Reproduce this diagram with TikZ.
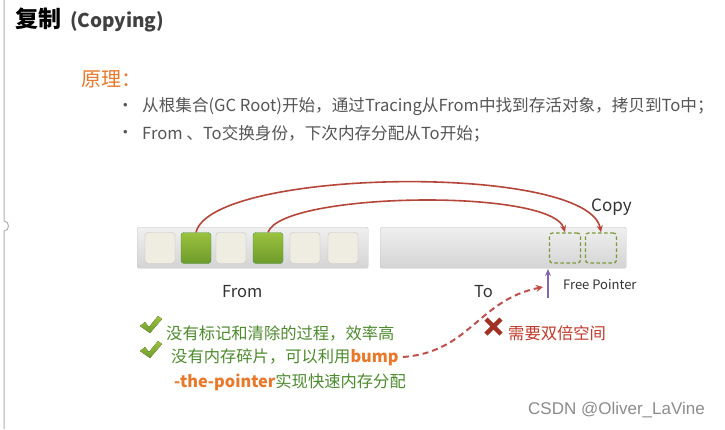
\documentclass[tikz,border=0pt]{standalone}
\usepackage{fontspec}
\setmainfont{Noto Sans CJK SC}
\newfontfamily\wmfont{Liberation Sans}
\usetikzlibrary{arrows.meta}
\definecolor{bodygray}{HTML}{555555}
\definecolor{orangeC}{HTML}{E8782A}
\definecolor{greenT}{HTML}{4E8A2E}
\definecolor{redT}{HTML}{C0392B}
\definecolor{arcred}{HTML}{B5463A}
\definecolor{dashred}{HTML}{C0504D}
\definecolor{cellbeige}{HTML}{EFECE2}
\definecolor{purpleP}{HTML}{8466B0}
\definecolor{dashgreen}{HTML}{7A9A3A}
\definecolor{HTML9BC23F}{HTML}{9BC23F}
\definecolor{HTML6E9B2B}{HTML}{6E9B2B}
\tikzset{
  txt/.style={inner sep=0pt, anchor=west, text=bodygray, font=\fontsize{16.6}{18}\selectfont},
  gtxt/.style={inner sep=0pt, anchor=west, font=\fontsize{16.3}{18}\selectfont},
  bar/.style={draw=black!22, top color=black!6, bottom color=black!17, rounded corners=1.5pt, inner sep=0pt, anchor=north west},
  cellE/.style={draw=black!25, fill=cellbeige, rounded corners=3pt, minimum width=30pt, minimum height=31pt, inner sep=0pt},
  cellG/.style={draw=green!40!black!70, top color=HTML9BC23F, bottom color=HTML6E9B2B, rounded corners=3pt, minimum width=30pt, minimum height=31pt, inner sep=0pt},
  cellD/.style={draw=dashgreen, dashed, line width=1.3pt, dash pattern=on 3.5pt off 2.5pt, rounded corners=3pt, minimum width=31pt, minimum height=30pt, inner sep=0pt},
  arc/.style={draw=arcred, line width=1.6pt, -{Stealth[length=7pt,width=6pt]}},
  smalltxt/.style={inner sep=0pt, text=black!80, font=\fontsize{17}{19}\selectfont},
}
\begin{document}
\begin{tikzpicture}[x=1pt,y=-1pt]
\useasboundingbox (0,0) rectangle (725,429);
\fill[white] (0,0) rectangle (725,429);
% left margin line
\draw[black!30, line width=1pt] (4,0) -- (4,221) .. controls (10,221) and (10,231) .. (4,231) -- (4,429);
% title
\node[inner sep=0pt, anchor=west] (title) at (15,20) {\fontsize{23}{26}\selectfont\bfseries 复制\hspace{9pt}{\fontsize{19}{21}\selectfont\color{black!75}(Copying)}};
\node[inner sep=0pt, anchor=west, text=orangeC, font=\fontsize{20}{22}\selectfont] (yl) at (81,79) {原理：};
\node[txt] (b1) at (117,107) {•};
\node[txt] (t1) at (142,107) {从根集合(GC Root)开始，通过Tracing从From中找到存活对象，拷贝到To中；};
\node[txt] (b2) at (117,134) {•};
\node[txt] (t2) at (142,134) {From 、To交换身份，下次内存分配从To开始；};
% bars
\node[bar, minimum width=231pt, minimum height=41pt] (from) at (137,227) {};
\node[bar, minimum width=246pt, minimum height=41pt] (to) at (380,227) {};
% from cells
\node[cellE] (f1) at (160,248) {};
\node[cellG] (f2) at (196,248) {};
\node[cellE] (f3) at (231,248) {};
\node[cellG] (f4) at (268,248) {};
\node[cellE] (f5) at (305,248) {};
\node[cellE] (f6) at (343,248) {};
% to cells
\node[cellD] (c1) at (565,248) {};
\node[cellD] (c2) at (601,248) {};
% arcs
\draw[arc] (f2.north) .. controls (212,168) and (588,163) .. (c2.north);
\draw[arc] (f4.north) .. controls (282,192) and (552,188) .. (c1.north);
\node[smalltxt, anchor=west] (copy) at (591,207) {Copy};
\node[smalltxt, anchor=west, font=\fontsize{16.5}{18}\selectfont] (fromlbl) at (222,292) {From};
\node[smalltxt, anchor=west, font=\fontsize{16.5}{18}\selectfont] (tolbl) at (474,292) {To};
% free pointer
\coordinate (fpb) at (548,298);
\coordinate (fpt) at (548,269);
\draw[purpleP, line width=1.6pt, -{Stealth[length=7pt,width=6pt]}] (fpb) -- (fpt);
\node[inner sep=0pt, anchor=west, text=black!80, font=\fontsize{13}{15}\selectfont] (fp) at (563,285) {Free Pointer};
% check marks
\foreach \yy/\nm in {326/ck1, 351/ck2}{
  \fill[top color=HTML9BC23F, bottom color=HTML6E9B2B] (140,\yy) -- (145,\yy-4) -- (149,\yy+1) -- (158,\yy-10) -- (162,\yy-7) -- (150,\yy+7) -- cycle;
}
\node[gtxt, text=greenT] (g1) at (166,333) {没有标记和清除的过程，效率高};
\node[gtxt, text=greenT] (g2) at (171,357) {没有内存碎片，可以利用\textbf{\color{orangeC}bump}};
\node[gtxt, text=greenT] (g3) at (174,382) {\textbf{\color{orangeC}-the-pointer}实现快速内存分配};
% red X
\draw[redT!85!black, line width=4.5pt] (486,319) -- (501,334) (501,319) -- (486,334);
\node[gtxt, text=redT] (rx) at (508,333) {需要双倍空间};
% dashed red arrow
\draw[dashred, line width=2pt, dash pattern=on 6pt off 4pt, -{Stealth[length=7pt,width=7pt]}] (g2.east) ++(4pt,0) .. controls (470,352) and (478,300) .. (543,287);
% watermark
\node[inner sep=0pt, anchor=west, text=black!45, font=\wmfont\fontsize{17}{19}\selectfont] (wm) at (528,410) {CSDN @Oliver\_LaVine};
\end{tikzpicture}
\end{document}
